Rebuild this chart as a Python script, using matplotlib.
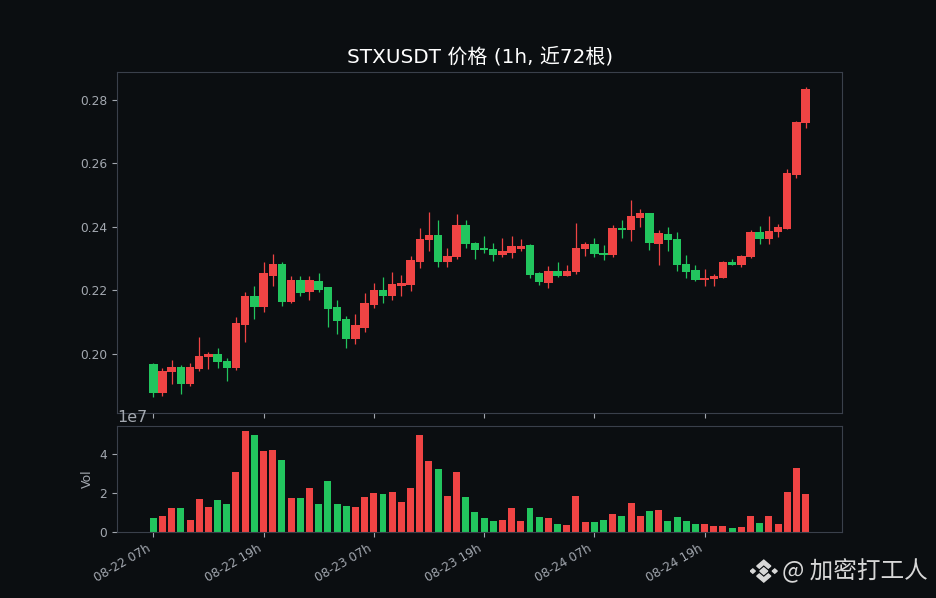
import numpy as np
import matplotlib
matplotlib.use("Agg")
import matplotlib.pyplot as plt
from matplotlib.patches import Polygon

BG = '#0b0e11'
UP = '#ef4444'
DOWN = '#22c55e'
FRAME = '#3a404b'
TXT = '#a3a8b0'

title_txt = "STXUSDT 价格 (1h, 近72根)"
tick_pos = [0, 12, 24, 36, 48, 60]
tick_labels = ["08-22 07h", "08-22 19h", "08-23 07h", "08-23 19h", "08-24 07h", "08-24 19h"]

opens = [0.1969, 0.1878, 0.1943, 0.1959, 0.1904, 0.1954, 0.1989, 0.2000, 0.1978, 0.1956,
         0.2092, 0.2181, 0.2148, 0.2245, 0.2284, 0.2163, 0.2234, 0.2195, 0.2228, 0.2209,
         0.2147, 0.2109, 0.2048, 0.2082, 0.2154, 0.2200, 0.2182, 0.2214, 0.2217, 0.2289,
         0.2357, 0.2375, 0.2289, 0.2304, 0.2406, 0.2350, 0.2334, 0.2331, 0.2310, 0.2317,
         0.2331, 0.2344, 0.2255, 0.2223, 0.2262, 0.2245, 0.2257, 0.2329, 0.2346, 0.2319,
         0.2310, 0.2397, 0.2389, 0.2429, 0.2444, 0.2345, 0.2378, 0.2363, 0.2284, 0.2263,
         0.2232, 0.2235, 0.2238, 0.2288, 0.2279, 0.2304, 0.2384, 0.2360, 0.2382, 0.2394,
         0.2564, 0.2726]
highs = [0.1972, 0.1956, 0.1981, 0.1965, 0.1972, 0.2053, 0.2006, 0.2019, 0.1988, 0.2116,
         0.2194, 0.2213, 0.2288, 0.2313, 0.2288, 0.2244, 0.2244, 0.2244, 0.2256, 0.2209,
         0.2169, 0.2119, 0.2125, 0.2191, 0.2222, 0.2241, 0.2259, 0.2247, 0.2309, 0.2397,
         0.2447, 0.2422, 0.2334, 0.2441, 0.2422, 0.2353, 0.2372, 0.2350, 0.2366, 0.2372,
         0.2363, 0.2347, 0.2258, 0.2278, 0.2288, 0.2281, 0.2413, 0.2353, 0.2366, 0.2344,
         0.2406, 0.2422, 0.2484, 0.2456, 0.2444, 0.2391, 0.2400, 0.2384, 0.2310, 0.2279,
         0.2266, 0.2250, 0.2291, 0.2300, 0.2311, 0.2391, 0.2403, 0.2434, 0.2409, 0.2581,
         0.2734, 0.2838]
lows = [0.1863, 0.1867, 0.1904, 0.1873, 0.1900, 0.1947, 0.1953, 0.1956, 0.1916, 0.1951,
        0.2038, 0.2109, 0.2131, 0.2213, 0.2151, 0.2159, 0.2181, 0.2170, 0.2195, 0.2085,
        0.2064, 0.2020, 0.2032, 0.2070, 0.2145, 0.2160, 0.2170, 0.2182, 0.2198, 0.2270,
        0.2323, 0.2272, 0.2272, 0.2299, 0.2334, 0.2297, 0.2316, 0.2291, 0.2306, 0.2303,
        0.2325, 0.2238, 0.2217, 0.2207, 0.2242, 0.2245, 0.2250, 0.2307, 0.2306, 0.2295,
        0.2306, 0.2366, 0.2356, 0.2400, 0.2328, 0.2281, 0.2323, 0.2260, 0.2239, 0.2229,
        0.2214, 0.2214, 0.2238, 0.2279, 0.2273, 0.2301, 0.2345, 0.2345, 0.2367, 0.2394,
        0.2554, 0.2710]
closes = [0.1876, 0.1947, 0.1959, 0.1904, 0.1959, 0.1994, 0.2000, 0.1976, 0.1956, 0.2097,
          0.2181, 0.2148, 0.2253, 0.2284, 0.2163, 0.2234, 0.2193, 0.2231, 0.2201, 0.2142,
          0.2104, 0.2048, 0.2091, 0.2159, 0.2200, 0.2182, 0.2219, 0.2222, 0.2294, 0.2363,
          0.2375, 0.2289, 0.2309, 0.2406, 0.2345, 0.2326, 0.2326, 0.2310, 0.2325, 0.2341,
          0.2341, 0.2248, 0.2226, 0.2262, 0.2245, 0.2262, 0.2333, 0.2346, 0.2314, 0.2310,
          0.2397, 0.2389, 0.2434, 0.2444, 0.2348, 0.2381, 0.2357, 0.2279, 0.2257, 0.2232,
          0.2238, 0.2244, 0.2288, 0.2279, 0.2309, 0.2384, 0.2360, 0.2388, 0.2400, 0.2569,
          0.2731, 0.2834]
# volume in units of 1e7
vol_1e7 = [0.71, 0.81, 1.22, 1.22, 0.61, 1.67, 1.27, 1.62, 1.42, 3.04,
           5.16, 4.96, 4.15, 4.20, 3.70, 1.72, 1.72, 2.23, 1.42, 2.58,
           1.42, 1.32, 1.27, 1.77, 1.97, 1.92, 2.03, 1.52, 2.23, 4.96,
           3.65, 3.24, 1.82, 3.04, 1.77, 1.01, 0.71, 0.56, 0.61, 1.22,
           0.56, 1.22, 0.76, 0.71, 0.41, 0.35, 1.82, 0.51, 0.51, 0.61,
           0.91, 0.81, 1.47, 0.81, 1.06, 1.11, 0.56, 0.76, 0.56, 0.41,
           0.41, 0.30, 0.30, 0.20, 0.25, 0.81, 0.46, 0.81, 0.41, 2.03,
           3.29, 1.92]

o = np.array(opens)
h = np.array(highs)
l = np.array(lows)
c = np.array(closes)
vol = np.array(vol_1e7) * 1e7
x = np.arange(len(o))
cols = [UP if cc >= oo else DOWN for oo, cc in zip(o, c)]

fig = plt.figure(figsize=(9.36, 5.98), dpi=100, facecolor=BG)
ax = fig.add_axes([0.125, 0.3094, 0.775, 0.5702], facecolor=BG)
axv = fig.add_axes([0.125, 0.1104, 0.775, 0.1773], facecolor=BG, sharex=ax)

# candles
ax.vlines(x, l, h, colors=cols, linewidth=0.9, zorder=2)
ax.bar(x, np.maximum(np.abs(c - o), 0.00008), bottom=np.minimum(o, c), width=0.92,
       color=cols, linewidth=0, zorder=3)
ax.margins(y=0.05)

axv.bar(x, vol, width=0.76, color=cols, linewidth=0)
axv.set_ylabel("Vol", color=TXT, fontsize=9)

ax.set_xlim(-3.95, 75.0)
axv.set_xticks(tick_pos)
axv.set_xticklabels(tick_labels, rotation=30, ha='right')
plt.setp(ax.get_xticklabels(), visible=False)

for a in (ax, axv):
    for s in a.spines.values():
        s.set_color(FRAME)
    a.tick_params(colors=TXT, labelsize=8.8, length=3.5)
axv.yaxis.get_offset_text().set_fontsize(11.5)
axv.yaxis.get_offset_text().set_color(TXT)

ax.set_title(title_txt, color='white', fontsize=14.4, pad=7,
             family=['DejaVu Sans', 'Noto Sans CJK SC'])

# watermark
fig.text(0.836, 0.045, "@ 加密打工人", color='#d8d8d8', fontsize=17,
         family=['Noto Sans CJK SC', 'DejaVu Sans'], ha='left', va='center')
lg = fig.add_axes([0.801, 0.025, 0.03, 0.04])
lg.set_xlim(-1, 1)
lg.set_ylim(-1, 1)
lg.axis('off')
wc = '#d8d8d8'
for cx, cy, r in [(0, 0, 0.28), (-0.78, 0, 0.18), (0.78, 0, 0.18)]:
    lg.add_patch(Polygon([(cx - r, cy), (cx, cy + r), (cx + r, cy), (cx, cy - r)], color=wc))
lg.add_patch(Polygon([(-0.5, 0.42), (0, 0.92), (0.5, 0.42), (0.32, 0.24), (0, 0.56), (-0.32, 0.24)], color=wc))
lg.add_patch(Polygon([(-0.5, -0.42), (0, -0.92), (0.5, -0.42), (0.32, -0.24), (0, -0.56), (-0.32, -0.24)], color=wc))

fig.savefig("out.png", dpi=100, facecolor=BG)
